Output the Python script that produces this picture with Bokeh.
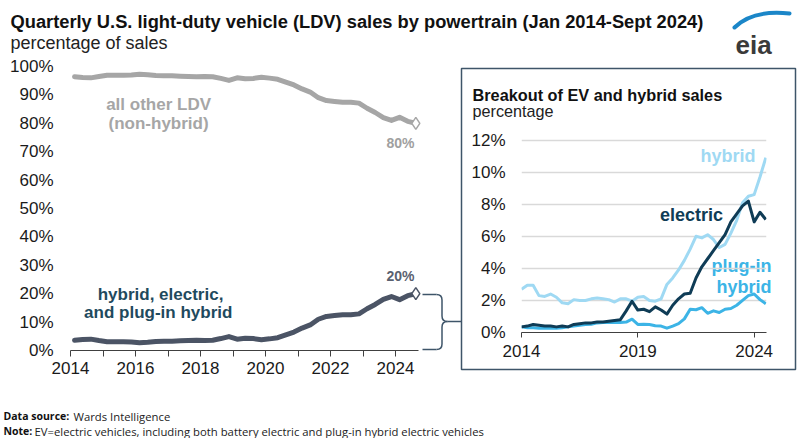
from bokeh.plotting import figure
from bokeh.models import Range1d, FixedTicker, PrintfTickFormatter, LinearAxis, Grid
from bokeh.core.properties import value
from bokeh.embed import file_html
from bokeh.resources import INLINE

W, H = 800, 438
FONT = "Liberation Sans"
NOTE_FONT = "Open Sans"

# ---- data: quarterly shares of U.S. light-duty vehicle sales (%), Q1 2014 - Q3 2024 ----
years = list(range(2014, 2025))
quarters = [(y, q) for y in years for q in (1, 2, 3, 4)][:43]

total_share = [3.6, 3.9, 4.0, 3.5,
               3.1, 3.1, 3.1, 3.0,
               2.7, 2.9, 3.2, 3.3,
               3.3, 3.4, 3.5, 3.6,
               3.5, 3.6, 4.2, 4.9,
               4.0, 4.3, 4.2, 3.8,
               4.1, 4.5, 5.5, 6.5,
               7.9, 9.0, 11.0, 12.0,
               12.3, 12.6, 12.6, 12.9,
               14.7, 16.2, 18.0, 19.0,
               17.9, 19.3, 20.0]

other_share = [96.4, 96.1, 96.0, 96.5,
               96.9, 96.9, 96.9, 97.0,
               97.3, 97.1, 96.8, 96.7,
               96.7, 96.6, 96.5, 96.4,
               96.5, 96.4, 95.8, 95.1,
               96.0, 95.7, 95.8, 96.2,
               95.9, 95.5, 94.5, 93.5,
               92.1, 91.0, 89.0, 88.0,
               87.7, 87.4, 87.4, 87.1,
               85.3, 83.8, 82.0, 81.0,
               82.1, 80.7, 80.0]

hybrid_share = [2.7, 2.95, 2.95, 2.3,
                2.25, 2.4, 2.2, 1.85,
                1.8, 2.05, 2.0, 2.0,
                2.1, 2.15, 2.1, 2.05,
                1.9, 2.1, 2.1, 1.95,
                2.2, 2.25, 2.0, 1.95,
                2.1, 3.0, 3.4, 3.9,
                4.5, 5.2, 6.0, 5.9,
                6.1, 5.8, 5.3, 5.5,
                6.2, 7.0, 8.1, 8.5,
                8.6, 9.7, 10.9]

electric_share = [0.35, 0.4, 0.5, 0.45,
                  0.4, 0.4, 0.35, 0.4,
                  0.35, 0.5, 0.55, 0.6,
                  0.6, 0.65, 0.65, 0.7,
                  0.75, 0.8, 1.35, 1.95,
                  1.4, 1.45, 1.3, 1.6,
                  1.4, 1.15, 1.7, 2.1,
                  2.4, 2.45, 3.4, 4.1,
                  4.6, 5.1, 5.6, 6.1,
                  6.9, 7.4, 7.9, 8.2,
                  6.9, 7.5, 7.05]

phev_share = [0.35, 0.3, 0.3, 0.27,
              0.27, 0.27, 0.27, 0.3,
              0.35, 0.4, 0.45, 0.5,
              0.52, 0.6, 0.62, 0.62,
              0.62, 0.62, 0.65, 0.83,
              0.5, 0.52, 0.5, 0.42,
              0.4, 0.27, 0.4, 0.55,
              0.85, 1.45, 1.42, 1.55,
              1.2, 1.35, 1.25, 1.45,
              1.5, 1.7, 2.0, 2.3,
              2.4, 2.05, 1.8]

main_year_ticks = [2014, 2016, 2018, 2020, 2022, 2024]
main_year_minor = [2015, 2017, 2019, 2021, 2023]
main_pct_ticks = list(range(0, 101, 10))
inset_year_ticks = [2014, 2019, 2024]
inset_pct_ticks = [0, 2, 4, 6, 8, 10, 12]

# quarter positions on a decimal-year axis
t_start = [y + (q - 1) / 4 for y, q in quarters]
t_mid = [t + 0.125 for t in t_start]

C_OTHER = "#a6a6a6"
C_TOTAL = "#4b5465"
C_TOTAL_TXT = "#1f4a5e"
C_HYB = "#9fd9f3"
C_EV = "#0f3c56"
C_PHEV = "#3cb4e6"
C_BOX = "#3e5569"

# all three layers share the same page corner
STACK = {"position": "absolute", "top": "0px", "left": "0px"}


def clear(p):
    p.outline_line_color = None
    p.background_fill_color = None
    p.border_fill_color = None


def style_axis(ax, size="17px"):
    ax.major_label_text_font = FONT
    ax.major_label_text_font_size = size
    ax.major_label_text_color = "#1a1a1a"


# ---- background layer: titles, notes, logo, inset frame, brace ----
deco = figure(width=W, height=H, x_range=Range1d(0, W), y_range=Range1d(H, 0),
              output_backend="svg", toolbar_location=None,
              x_axis_type=None, y_axis_type=None,
              min_border_left=0, min_border_right=0, min_border_top=0, min_border_bottom=0)
deco.outline_line_color = None
deco.background_fill_color = "white"
deco.border_fill_color = "white"
deco.styles = STACK


def txt(p, x, y, s, size, color="#111111", bold=False, align="left", baseline="alphabetic", font=FONT):
    p.text(x=[x], y=[y], text=[s], text_font=value(font), text_font_size=size,
           text_font_style="bold" if bold else "normal", text_color=color,
           text_align=align, text_baseline=baseline)


txt(deco, 10, 21, "Quarterly U.S. light-duty vehicle (LDV) sales by powertrain (Jan 2014-Sept 2024)",
    "18.3px", "#111111", bold=True)
txt(deco, 10, 42, "percentage of sales", "18px", "#222222")

# logo
deco.quadratic(x0=[734], y0=[27], x1=[789], y1=[13], cx=[752], cy=[9],
               line_color="#1b86c8", line_width=4, line_cap="round")
txt(deco, 735, 44, "eia", "26px", "#3a3a3a", bold=True)

# inset frame and headings
deco.quad(left=[461], right=[795], top=[68], bottom=[369], fill_color="white",
          line_color=C_BOX, line_width=1.5)
txt(deco, 472, 94, "Breakout of EV and hybrid sales", "16.3px", "#111111", bold=True)
txt(deco, 472, 110, "percentage", "16.2px", "#222222")

# inset series labels
txt(deco, 727.5, 155, "hybrid", "18px", C_HYB, bold=True, align="center", baseline="middle")
txt(deco, 691, 214, "electric", "18px", C_EV, bold=True, align="center", baseline="middle")
txt(deco, 741, 265, "plug-in", "18px", C_PHEV, bold=True, align="center", baseline="middle")
txt(deco, 743.5, 286, "hybrid", "18px", C_PHEV, bold=True, align="center", baseline="middle")

# brace linking the combined series to the inset
bx, by0, bym, by1 = 441.5, 294, 321, 349
deco.segment(x0=[422, bx, bx, 422, 447], y0=[by0, by0 + 5.5, bym + 5.5, by1, bym],
             x1=[436, bx, bx, 436, 461], y1=[by0, bym - 5.5, by1 - 5.5, by1, bym],
             line_color=C_BOX, line_width=1.5)
deco.quadratic(x0=[436, bx, 447, bx], y0=[by0, bym - 5.5, bym, by1 - 5.5],
               x1=[bx, 447, bx, 436], y1=[by0 + 5.5, bym, bym + 5.5, by1],
               cx=[bx, bx, bx, bx], cy=[by0, bym, bym, by1],
               line_color=C_BOX, line_width=1.5)

# notes
txt(deco, 3, 415.5, "Data source:", "10.5px", "#111111", bold=True, font=NOTE_FONT)
txt(deco, 73, 415.5, "Wards Intelligence", "11.3px", "#222222", font=NOTE_FONT)
txt(deco, 3, 430.5, "Note:", "10.5px", "#111111", bold=True, font=NOTE_FONT)
txt(deco, 34, 430.5, "EV=electric vehicles, including both battery electric and plug-in hybrid electric vehicles",
    "11.3px", "#222222", font=NOTE_FONT)

# ---- main chart: all-other vs. hybrid/electric/plug-in ----
main = figure(width=W, height=H, x_range=Range1d(2014, 2025.015), y_range=Range1d(0, 102.11),
              output_backend="svg", toolbar_location=None,
              x_axis_type=None, y_axis_type=None,
              min_border_left=70, min_border_right=372, min_border_top=60, min_border_bottom=88)
clear(main)
main.styles = STACK

xax = LinearAxis(ticker=FixedTicker(ticks=main_year_ticks, minor_ticks=main_year_minor),
                 bounds=(2014, 2024.708))
xax.axis_line_color = "#404040"
xax.major_tick_line_color = "#404040"
xax.minor_tick_line_color = "#404040"
xax.major_tick_out = 6
xax.major_tick_in = 0
xax.minor_tick_out = 6
xax.minor_tick_in = 0
xax.major_label_standoff = 5
style_axis(xax)
main.add_layout(xax, "below")

yax = LinearAxis(ticker=FixedTicker(ticks=main_pct_ticks), formatter=PrintfTickFormatter(format="%d%%"))
yax.axis_line_color = None
yax.major_tick_line_color = None
yax.minor_tick_line_color = None
yax.major_tick_out = 0
yax.major_label_standoff = 17
style_axis(yax)
main.add_layout(yax, "left")

main.line(t_mid, other_share, line_color=C_OTHER, line_width=5, line_join="round", line_cap="round")
main.line(t_mid, total_share, line_color=C_TOTAL, line_width=5, line_join="round", line_cap="round")
main.scatter([t_mid[-1]], [other_share[-1]], marker="diamond", size=12, fill_color="white",
             line_color=C_OTHER, line_width=1.5)
main.scatter([t_mid[-1]], [total_share[-1]], marker="diamond", size=12, fill_color="white",
             line_color=C_TOTAL, line_width=1.5)


def mtxt(x, y, s, size, color, bold=True):
    main.text(x=[x], y=[y], text=[s], text_font=value(FONT), text_font_size=size,
              text_font_style="bold" if bold else "normal", text_color=color,
              text_align="center", text_baseline="middle")


mtxt(2016.71, 86.6, "all other LDV", "17px", C_OTHER)
mtxt(2016.71, 79.9, "(non-hybrid)", "17px", C_OTHER)
mtxt(2024.15, 72.9, f"{other_share[-1]:.0f}%", "14px", "#a0a0a0")
mtxt(2024.15, 26.1, f"{total_share[-1]:.0f}%", "14px", "#5a6170")
mtxt(2016.77, 19.7, "hybrid, electric,", "17px", C_TOTAL_TXT)
mtxt(2016.70, 13.4, "and plug-in hybrid", "17px", C_TOTAL_TXT)

# ---- inset: breakout by powertrain ----
inset = figure(width=W, height=H, x_range=Range1d(2014, 2024.53), y_range=Range1d(0, 12.6),
               output_backend="svg", toolbar_location=None,
               x_axis_type=None, y_axis_type=None,
               min_border_left=521, min_border_right=34, min_border_top=130, min_border_bottom=106)
clear(inset)
inset.styles = STACK

ix = LinearAxis(ticker=FixedTicker(ticks=inset_year_ticks))
ix.axis_line_color = "#404040"
ix.major_tick_line_color = "#404040"
ix.minor_tick_line_color = None
ix.major_tick_out = 5
ix.major_tick_in = 0
ix.major_label_standoff = 7
style_axis(ix)
inset.add_layout(ix, "below")

iy = LinearAxis(ticker=FixedTicker(ticks=inset_pct_ticks), formatter=PrintfTickFormatter(format="%d%%"))
iy.axis_line_color = None
iy.major_tick_line_color = None
iy.minor_tick_line_color = None
iy.major_tick_out = 0
iy.major_label_standoff = 16
style_axis(iy)
inset.add_layout(iy, "left")

inset.add_layout(Grid(dimension=1, ticker=FixedTicker(ticks=inset_pct_ticks[1:]),
                      grid_line_color="#d9d9d9", grid_line_width=1.3))

inset.line(t_start, hybrid_share, line_color=C_HYB, line_width=3, line_join="round")
inset.line(t_start, phev_share, line_color=C_PHEV, line_width=3, line_join="round")
inset.line(t_start, electric_share, line_color=C_EV, line_width=3, line_join="round")

with open("out.html", "w") as f:
    f.write(file_html([deco, main, inset], INLINE))
